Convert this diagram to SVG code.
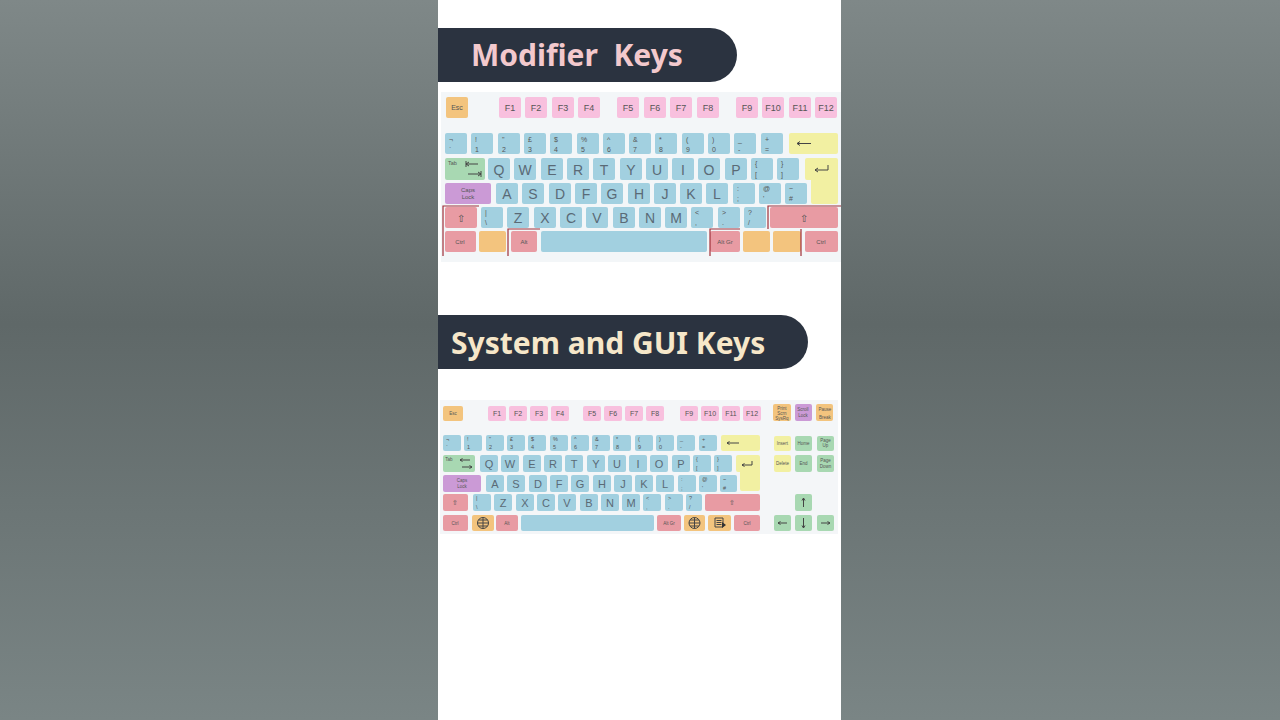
<svg xmlns="http://www.w3.org/2000/svg" width="1280" height="720" viewBox="0 0 1280 720">
<defs>
<linearGradient id="bg" x1="0" y1="0" x2="0" y2="1"><stop offset="0" stop-color="#7f8888"/><stop offset="0.45" stop-color="#5f6868"/><stop offset="1" stop-color="#7a8585"/></linearGradient>
<style>
.b{fill:#a2d0e0}.p{fill:#f8c0de}.o{fill:#f3c47e}.g{fill:#a8d8b2}.y{fill:#f2f0a2}.v{fill:#cb9ad6}.r{fill:#e89ba3}
text{font-family:"Liberation Sans",Arial,sans-serif;fill:#555}
.s{font-size:7px}.ss{font-size:5.5px}.f{font-size:9px;text-anchor:middle}.fs{font-size:7px;text-anchor:middle}
.l{font-size:14px;text-anchor:middle;fill:#5a6a76}.ls{font-size:11px;text-anchor:middle;fill:#5a6a76}
.t{font-size:6px;text-anchor:middle}.t2{font-size:4.5px;text-anchor:middle}.sh{font-size:10px;text-anchor:middle}
.ln{stroke:#444;stroke-width:1;fill:none}.rd{stroke:#a0303a;stroke-width:1.2;fill:none}
</style>
</defs>
<rect width="1280" height="720" fill="url(#bg)"/>
<rect x="438" y="0" width="403" height="720" fill="#ffffff"/>

<g id="banner1">
<path d="M438,28 H710 A27,27 0 0 1 710,82 H438 Z" fill="#2b3340"/>
<text x="471" y="66" xml:space="preserve" style="font-family:'Noto Sans',sans-serif;font-weight:bold;font-size:30px;fill:#f3c9cd;white-space:pre">Modifier  Keys</text>
</g>
<g id="banner2">
<path d="M438,315 H781 A27,27 0 0 1 781,369 H438 Z" fill="#2b3340"/>
<text x="451" y="354" style="font-family:'Noto Sans',sans-serif;font-weight:bold;font-size:30px;fill:#f6e7c9">System and GUI Keys</text>
</g>

<g id="keyboard1">
<rect x="441" y="92" width="400" height="170" fill="#f3f6f8"/>
<rect class="o" x="446" y="97" width="22" height="21" rx="2"/><text class="fs" x="457" y="110">Esc</text>
<g class="fk">
<rect class="p" x="499" y="97" width="22" height="21" rx="2"/><text class="f" x="510" y="111">F1</text>
<rect class="p" x="525" y="97" width="22" height="21" rx="2"/><text class="f" x="536" y="111">F2</text>
<rect class="p" x="552" y="97" width="22" height="21" rx="2"/><text class="f" x="563" y="111">F3</text>
<rect class="p" x="578" y="97" width="22" height="21" rx="2"/><text class="f" x="589" y="111">F4</text>
<rect class="p" x="617" y="97" width="22" height="21" rx="2"/><text class="f" x="628" y="111">F5</text>
<rect class="p" x="644" y="97" width="22" height="21" rx="2"/><text class="f" x="655" y="111">F6</text>
<rect class="p" x="670" y="97" width="22" height="21" rx="2"/><text class="f" x="681" y="111">F7</text>
<rect class="p" x="697" y="97" width="22" height="21" rx="2"/><text class="f" x="708" y="111">F8</text>
<rect class="p" x="736" y="97" width="22" height="21" rx="2"/><text class="f" x="747" y="111">F9</text>
<rect class="p" x="762" y="97" width="22" height="21" rx="2"/><text class="f" x="773" y="111">F10</text>
<rect class="p" x="789" y="97" width="22" height="21" rx="2"/><text class="f" x="800" y="111">F11</text>
<rect class="p" x="815" y="97" width="22" height="21" rx="2"/><text class="f" x="826" y="111">F12</text>
</g>
<g>
<rect class="b" x="445" y="133" width="22" height="21" rx="2"/><text class="s" x="449" y="142">¬</text><text class="s" x="449" y="152">`</text>
<rect class="b" x="471" y="133" width="22" height="21" rx="2"/><text class="s" x="475" y="142">!</text><text class="s" x="475" y="152">1</text>
<rect class="b" x="498" y="133" width="22" height="21" rx="2"/><text class="s" x="502" y="142">"</text><text class="s" x="502" y="152">2</text>
<rect class="b" x="524" y="133" width="22" height="21" rx="2"/><text class="s" x="528" y="142">£</text><text class="s" x="528" y="152">3</text>
<rect class="b" x="550" y="133" width="22" height="21" rx="2"/><text class="s" x="554" y="142">$</text><text class="s" x="554" y="152">4</text>
<rect class="b" x="577" y="133" width="22" height="21" rx="2"/><text class="s" x="581" y="142">%</text><text class="s" x="581" y="152">5</text>
<rect class="b" x="603" y="133" width="22" height="21" rx="2"/><text class="s" x="607" y="142">^</text><text class="s" x="607" y="152">6</text>
<rect class="b" x="629" y="133" width="22" height="21" rx="2"/><text class="s" x="633" y="142">&amp;</text><text class="s" x="633" y="152">7</text>
<rect class="b" x="655" y="133" width="22" height="21" rx="2"/><text class="s" x="659" y="142">*</text><text class="s" x="659" y="152">8</text>
<rect class="b" x="682" y="133" width="22" height="21" rx="2"/><text class="s" x="686" y="142">(</text><text class="s" x="686" y="152">9</text>
<rect class="b" x="708" y="133" width="22" height="21" rx="2"/><text class="s" x="712" y="142">)</text><text class="s" x="712" y="152">0</text>
<rect class="b" x="734" y="133" width="22" height="21" rx="2"/><text class="s" x="738" y="142">_</text><text class="s" x="738" y="152">-</text>
<rect class="b" x="761" y="133" width="22" height="21" rx="2"/><text class="s" x="765" y="142">+</text><text class="s" x="765" y="152">=</text>
<rect class="y" x="789" y="133" width="49" height="21" rx="2"/><path class="ln" d="M797,143.5 H811 M797,143.5 l3,-2 M797,143.5 l3,2"/>
</g>
<g>
<rect class="g" x="445" y="158" width="40" height="22" rx="2"/><text class="ss" x="448" y="165">Tab</text><path class="ln" d="M466,164 H478 M466,161 V167 M466,164 l3,-2 M466,164 l3,2 M468,174 H481 M481,171 V177 M481,174 l-3,-2 M481,174 l-3,2"/>
<rect class="b" x="488" y="158" width="22" height="22" rx="2"/><text class="l" x="499" y="175">Q</text>
<rect class="b" x="514" y="158" width="22" height="22" rx="2"/><text class="l" x="525" y="175">W</text>
<rect class="b" x="541" y="158" width="22" height="22" rx="2"/><text class="l" x="552" y="175">E</text>
<rect class="b" x="567" y="158" width="22" height="22" rx="2"/><text class="l" x="578" y="175">R</text>
<rect class="b" x="593" y="158" width="22" height="22" rx="2"/><text class="l" x="604" y="175">T</text>
<rect class="b" x="620" y="158" width="22" height="22" rx="2"/><text class="l" x="631" y="175">Y</text>
<rect class="b" x="646" y="158" width="22" height="22" rx="2"/><text class="l" x="657" y="175">U</text>
<rect class="b" x="672" y="158" width="22" height="22" rx="2"/><text class="l" x="683" y="175">I</text>
<rect class="b" x="698" y="158" width="22" height="22" rx="2"/><text class="l" x="709" y="175">O</text>
<rect class="b" x="725" y="158" width="22" height="22" rx="2"/><text class="l" x="736" y="175">P</text>
<rect class="b" x="751" y="158" width="22" height="22" rx="2"/><text class="s" x="755" y="166">{</text><text class="s" x="755" y="177">[</text>
<rect class="b" x="777" y="158" width="22" height="22" rx="2"/><text class="s" x="781" y="166">}</text><text class="s" x="781" y="177">]</text>
<path class="y" d="M807,158 H836 Q838,158 838,160 V202 Q838,204 836,204 H813 Q811,204 811,202 V180 H807 Q805,180 805,178 V160 Q805,158 807,158 Z"/>
<path class="ln" d="M815,170 H828 V165 M815,170 l3,-2 M815,170 l3,2"/>
</g>
<g>
<rect class="v" x="445" y="183" width="46" height="21" rx="2"/><text class="t" x="468" y="192">Caps</text><text class="t" x="468" y="199">Lock</text>
<rect class="b" x="496" y="183" width="22" height="21" rx="2"/><text class="l" x="507" y="199">A</text>
<rect class="b" x="522" y="183" width="22" height="21" rx="2"/><text class="l" x="533" y="199">S</text>
<rect class="b" x="549" y="183" width="22" height="21" rx="2"/><text class="l" x="560" y="199">D</text>
<rect class="b" x="575" y="183" width="22" height="21" rx="2"/><text class="l" x="586" y="199">F</text>
<rect class="b" x="601" y="183" width="22" height="21" rx="2"/><text class="l" x="612" y="199">G</text>
<rect class="b" x="628" y="183" width="22" height="21" rx="2"/><text class="l" x="639" y="199">H</text>
<rect class="b" x="654" y="183" width="22" height="21" rx="2"/><text class="l" x="665" y="199">J</text>
<rect class="b" x="680" y="183" width="22" height="21" rx="2"/><text class="l" x="691" y="199">K</text>
<rect class="b" x="706" y="183" width="22" height="21" rx="2"/><text class="l" x="717" y="199">L</text>
<rect class="b" x="733" y="183" width="22" height="21" rx="2"/><text class="s" x="737" y="191">:</text><text class="s" x="737" y="201">;</text>
<rect class="b" x="759" y="183" width="22" height="21" rx="2"/><text class="s" x="763" y="191">@</text><text class="s" x="763" y="201">'</text>
<rect class="b" x="785" y="183" width="22" height="21" rx="2"/><text class="s" x="789" y="191">~</text><text class="s" x="789" y="201">#</text>
</g>
<g>
<rect class="r" x="445" y="207" width="32" height="21" rx="2"/><text class="sh" x="461" y="222">⇧</text>
<rect class="b" x="481" y="207" width="22" height="21" rx="2"/><text class="s" x="485" y="215">|</text><text class="s" x="485" y="225">\</text>
<rect class="b" x="507" y="207" width="22" height="21" rx="2"/><text class="l" x="518" y="223">Z</text>
<rect class="b" x="534" y="207" width="22" height="21" rx="2"/><text class="l" x="545" y="223">X</text>
<rect class="b" x="560" y="207" width="22" height="21" rx="2"/><text class="l" x="571" y="223">C</text>
<rect class="b" x="586" y="207" width="22" height="21" rx="2"/><text class="l" x="597" y="223">V</text>
<rect class="b" x="613" y="207" width="22" height="21" rx="2"/><text class="l" x="624" y="223">B</text>
<rect class="b" x="639" y="207" width="22" height="21" rx="2"/><text class="l" x="650" y="223">N</text>
<rect class="b" x="665" y="207" width="22" height="21" rx="2"/><text class="l" x="676" y="223">M</text>
<rect class="b" x="691" y="207" width="22" height="21" rx="2"/><text class="s" x="695" y="215">&lt;</text><text class="s" x="695" y="225">,</text>
<rect class="b" x="718" y="207" width="22" height="21" rx="2"/><text class="s" x="722" y="215">&gt;</text><text class="s" x="722" y="225">.</text>
<rect class="b" x="744" y="207" width="22" height="21" rx="2"/><text class="s" x="748" y="215">?</text><text class="s" x="748" y="225">/</text>
<rect class="r" x="770" y="207" width="68" height="21" rx="2"/><text class="sh" x="804" y="222">⇧</text>
</g>
<g>
<rect class="r" x="445" y="231" width="31" height="21" rx="2"/><text class="t" x="460" y="244">Ctrl</text>
<rect class="o" x="479" y="231" width="27" height="21" rx="2"/>
<rect class="r" x="511" y="231" width="26" height="21" rx="2"/><text class="t" x="524" y="244">Alt</text>
<rect class="b" x="541" y="231" width="166" height="21" rx="2"/>
<rect class="r" x="710" y="231" width="30" height="21" rx="2"/><text class="t" x="725" y="244">Alt Gr</text>
<rect class="o" x="743" y="231" width="27" height="21" rx="2"/>
<rect class="o" x="773" y="231" width="28" height="21" rx="2"/>
<rect class="r" x="805" y="231" width="33" height="21" rx="2"/><text class="t" x="821" y="244">Ctrl</text>
</g>
<path class="rd" d="M443,256 V206 H479 M508,256 V229 H540 M710,256 V229 H740 M768,229 V206 H841 M801,256 V229"/>
</g>

<g id="keyboard2">
<rect x="440" y="400" width="398" height="134" fill="#f4f6f8"/>
<rect class="o" x="443" y="406" width="20" height="15" rx="2"/><text class="t2" x="453" y="415">Esc</text>
<rect class="p" x="488" y="406" width="18" height="15" rx="2"/><text class="fs" x="497" y="416">F1</text>
<rect class="p" x="509" y="406" width="18" height="15" rx="2"/><text class="fs" x="518" y="416">F2</text>
<rect class="p" x="530" y="406" width="18" height="15" rx="2"/><text class="fs" x="539" y="416">F3</text>
<rect class="p" x="551" y="406" width="18" height="15" rx="2"/><text class="fs" x="560" y="416">F4</text>
<rect class="p" x="583" y="406" width="18" height="15" rx="2"/><text class="fs" x="592" y="416">F5</text>
<rect class="p" x="604" y="406" width="18" height="15" rx="2"/><text class="fs" x="613" y="416">F6</text>
<rect class="p" x="625" y="406" width="18" height="15" rx="2"/><text class="fs" x="634" y="416">F7</text>
<rect class="p" x="646" y="406" width="18" height="15" rx="2"/><text class="fs" x="655" y="416">F8</text>
<rect class="p" x="680" y="406" width="18" height="15" rx="2"/><text class="fs" x="689" y="416">F9</text>
<rect class="p" x="701" y="406" width="18" height="15" rx="2"/><text class="fs" x="710" y="416">F10</text>
<rect class="p" x="722" y="406" width="18" height="15" rx="2"/><text class="fs" x="731" y="416">F11</text>
<rect class="p" x="743" y="406" width="18" height="15" rx="2"/><text class="fs" x="752" y="416">F12</text>
<rect class="o" x="773" y="404" width="18" height="17" rx="2"/><text class="t2" x="782" y="410">Print</text><text class="t2" x="782" y="415">Scrn</text><text class="t2" x="782" y="420">SysRq</text>
<rect class="v" x="795" y="404" width="17" height="17" rx="2"/><text class="t2" x="803" y="411">Scroll</text><text class="t2" x="803" y="417">Lock</text>
<rect class="o" x="816" y="404" width="17" height="17" rx="2"/><text class="t2" x="825" y="411">Pause</text><text class="t2" x="825" y="419">Break</text>

<rect class="b" x="443" y="435" width="18" height="16" rx="2"/><text class="ss" x="446" y="441">¬</text><text class="ss" x="446" y="449">`</text>
<rect class="b" x="464" y="435" width="18" height="16" rx="2"/><text class="ss" x="467" y="441">!</text><text class="ss" x="467" y="449">1</text>
<rect class="b" x="486" y="435" width="18" height="16" rx="2"/><text class="ss" x="489" y="441">"</text><text class="ss" x="489" y="449">2</text>
<rect class="b" x="507" y="435" width="18" height="16" rx="2"/><text class="ss" x="510" y="441">£</text><text class="ss" x="510" y="449">3</text>
<rect class="b" x="528" y="435" width="18" height="16" rx="2"/><text class="ss" x="531" y="441">$</text><text class="ss" x="531" y="449">4</text>
<rect class="b" x="550" y="435" width="18" height="16" rx="2"/><text class="ss" x="553" y="441">%</text><text class="ss" x="553" y="449">5</text>
<rect class="b" x="571" y="435" width="18" height="16" rx="2"/><text class="ss" x="574" y="441">^</text><text class="ss" x="574" y="449">6</text>
<rect class="b" x="592" y="435" width="18" height="16" rx="2"/><text class="ss" x="595" y="441">&amp;</text><text class="ss" x="595" y="449">7</text>
<rect class="b" x="613" y="435" width="18" height="16" rx="2"/><text class="ss" x="616" y="441">*</text><text class="ss" x="616" y="449">8</text>
<rect class="b" x="635" y="435" width="18" height="16" rx="2"/><text class="ss" x="638" y="441">(</text><text class="ss" x="638" y="449">9</text>
<rect class="b" x="656" y="435" width="18" height="16" rx="2"/><text class="ss" x="659" y="441">)</text><text class="ss" x="659" y="449">0</text>
<rect class="b" x="677" y="435" width="18" height="16" rx="2"/><text class="ss" x="680" y="441">_</text><text class="ss" x="680" y="449">-</text>
<rect class="b" x="699" y="435" width="18" height="16" rx="2"/><text class="ss" x="702" y="441">+</text><text class="ss" x="702" y="449">=</text>
<rect class="y" x="721" y="435" width="39" height="16" rx="2"/><path class="ln" d="M727,443 H739 M727,443 l2.5,-1.5 M727,443 l2.5,1.5"/>

<rect class="g" x="443" y="455" width="32" height="17" rx="2"/><text class="t2" x="449" y="461">Tab</text><path class="ln" d="M460,460 H470 M460,460 l2.5,-1.5 M460,460 l2.5,1.5 M462,467 H472 M472,467 l-2.5,-1.5 M472,467 l-2.5,1.5"/>
<rect class="b" x="480" y="455" width="18" height="17" rx="2"/><text class="ls" x="489" y="468">Q</text>
<rect class="b" x="501" y="455" width="18" height="17" rx="2"/><text class="ls" x="510" y="468">W</text>
<rect class="b" x="523" y="455" width="18" height="17" rx="2"/><text class="ls" x="532" y="468">E</text>
<rect class="b" x="544" y="455" width="18" height="17" rx="2"/><text class="ls" x="553" y="468">R</text>
<rect class="b" x="565" y="455" width="18" height="17" rx="2"/><text class="ls" x="574" y="468">T</text>
<rect class="b" x="587" y="455" width="18" height="17" rx="2"/><text class="ls" x="596" y="468">Y</text>
<rect class="b" x="608" y="455" width="18" height="17" rx="2"/><text class="ls" x="617" y="468">U</text>
<rect class="b" x="629" y="455" width="18" height="17" rx="2"/><text class="ls" x="638" y="468">I</text>
<rect class="b" x="650" y="455" width="18" height="17" rx="2"/><text class="ls" x="659" y="468">O</text>
<rect class="b" x="672" y="455" width="18" height="17" rx="2"/><text class="ls" x="681" y="468">P</text>
<rect class="b" x="693" y="455" width="18" height="17" rx="2"/><text class="ss" x="696" y="461">{</text><text class="ss" x="696" y="470">[</text>
<rect class="b" x="714" y="455" width="18" height="17" rx="2"/><text class="ss" x="717" y="461">}</text><text class="ss" x="717" y="470">]</text>
<path class="y" d="M738,455 H758 Q760,455 760,457 V489 Q760,491 758,491 H742 Q740,491 740,489 V472 H738 Q736,472 736,470 V457 Q736,455 738,455 Z"/>
<path class="ln" d="M742,465 H752 V461 M742,465 l2.5,-1.5 M742,465 l2.5,1.5"/>

<rect class="v" x="443" y="475" width="38" height="17" rx="2"/><text class="t2" x="462" y="482">Caps</text><text class="t2" x="462" y="488">Lock</text>
<rect class="b" x="486" y="475" width="18" height="17" rx="2"/><text class="ls" x="495" y="488">A</text>
<rect class="b" x="507" y="475" width="18" height="17" rx="2"/><text class="ls" x="516" y="488">S</text>
<rect class="b" x="529" y="475" width="18" height="17" rx="2"/><text class="ls" x="538" y="488">D</text>
<rect class="b" x="550" y="475" width="18" height="17" rx="2"/><text class="ls" x="559" y="488">F</text>
<rect class="b" x="571" y="475" width="18" height="17" rx="2"/><text class="ls" x="580" y="488">G</text>
<rect class="b" x="593" y="475" width="18" height="17" rx="2"/><text class="ls" x="602" y="488">H</text>
<rect class="b" x="614" y="475" width="18" height="17" rx="2"/><text class="ls" x="623" y="488">J</text>
<rect class="b" x="635" y="475" width="18" height="17" rx="2"/><text class="ls" x="644" y="488">K</text>
<rect class="b" x="656" y="475" width="18" height="17" rx="2"/><text class="ls" x="665" y="488">L</text>
<rect class="b" x="678" y="475" width="18" height="17" rx="2"/><text class="ss" x="681" y="481">:</text><text class="ss" x="681" y="490">;</text>
<rect class="b" x="699" y="475" width="18" height="17" rx="2"/><text class="ss" x="702" y="481">@</text><text class="ss" x="702" y="490">'</text>
<rect class="b" x="720" y="475" width="17" height="17" rx="2"/><text class="ss" x="723" y="481">~</text><text class="ss" x="723" y="490">#</text>

<rect class="r" x="443" y="494" width="25" height="17" rx="2"/><text class="fs" x="455" y="505">⇧</text>
<rect class="b" x="473" y="494" width="18" height="17" rx="2"/><text class="ss" x="476" y="500">|</text><text class="ss" x="476" y="509">\</text>
<rect class="b" x="494" y="494" width="18" height="17" rx="2"/><text class="ls" x="503" y="507">Z</text>
<rect class="b" x="516" y="494" width="18" height="17" rx="2"/><text class="ls" x="525" y="507">X</text>
<rect class="b" x="537" y="494" width="18" height="17" rx="2"/><text class="ls" x="546" y="507">C</text>
<rect class="b" x="558" y="494" width="18" height="17" rx="2"/><text class="ls" x="567" y="507">V</text>
<rect class="b" x="580" y="494" width="18" height="17" rx="2"/><text class="ls" x="589" y="507">B</text>
<rect class="b" x="601" y="494" width="18" height="17" rx="2"/><text class="ls" x="610" y="507">N</text>
<rect class="b" x="622" y="494" width="18" height="17" rx="2"/><text class="ls" x="631" y="507">M</text>
<rect class="b" x="643" y="494" width="18" height="17" rx="2"/><text class="ss" x="646" y="500">&lt;</text><text class="ss" x="646" y="509">,</text>
<rect class="b" x="665" y="494" width="18" height="17" rx="2"/><text class="ss" x="668" y="500">&gt;</text><text class="ss" x="668" y="509">.</text>
<rect class="b" x="686" y="494" width="16" height="17" rx="2"/><text class="ss" x="689" y="500">?</text><text class="ss" x="689" y="509">/</text>
<rect class="r" x="705" y="494" width="55" height="17" rx="2"/><text class="fs" x="732" y="505">⇧</text>

<rect class="r" x="443" y="515" width="25" height="16" rx="2"/><text class="t2" x="455" y="525">Ctrl</text>
<rect class="o" x="472" y="515" width="22" height="16" rx="2"/><g class="ln" stroke-width="0.7"><circle cx="483" cy="523" r="5.5"/><path d="M477.5,523 H488.5 M483,517.5 V528.5 M478.5,520 H487.5 M478.5,526 H487.5"/></g>
<rect class="r" x="496" y="515" width="22" height="16" rx="2"/><text class="t2" x="507" y="525">Alt</text>
<rect class="b" x="521" y="515" width="133" height="16" rx="2"/>
<rect class="r" x="657" y="515" width="24" height="16" rx="2"/><text class="t2" x="669" y="525">Alt Gr</text>
<rect class="o" x="684" y="515" width="21" height="16" rx="2"/><g class="ln" stroke-width="0.7"><circle cx="694.5" cy="523" r="5.5"/><path d="M689,523 H700 M694.5,517.5 V528.5 M690,520 H699 M690,526 H699"/></g>
<rect class="o" x="708" y="515" width="23" height="16" rx="2"/><path class="ln" stroke-width="0.8" d="M715,518 h8 v9 h-8 z M716.5,520.5 h5 M716.5,522.5 h5 M716.5,524.5 h5"/><path d="M722,522 l4,3 l-4,3 z" fill="#333"/>
<rect class="r" x="734" y="515" width="26" height="16" rx="2"/><text class="t2" x="747" y="525">Ctrl</text>

<rect class="y" x="774" y="436" width="17" height="15" rx="2"/><text class="t2" x="782.5" y="445">Insert</text>
<rect class="g" x="795" y="436" width="17" height="15" rx="2"/><text class="t2" x="803.5" y="445">Home</text>
<rect class="g" x="817" y="436" width="17" height="15" rx="2"/><text class="t2" x="825.5" y="442">Page</text><text class="t2" x="825.5" y="447">Up</text>
<rect class="y" x="774" y="455" width="17" height="17" rx="2"/><text class="t2" x="782.5" y="465">Delete</text>
<rect class="g" x="795" y="455" width="17" height="17" rx="2"/><text class="t2" x="803.5" y="465">End</text>
<rect class="g" x="817" y="455" width="17" height="17" rx="2"/><text class="t2" x="825.5" y="462">Page</text><text class="t2" x="825.5" y="468">Down</text>
<rect class="g" x="795" y="494" width="17" height="17" rx="2"/><path class="ln" d="M803.5,498 V507 M803.5,498 l-1.5,2.5 M803.5,498 l1.5,2.5"/>
<rect class="g" x="774" y="515" width="17" height="16" rx="2"/><path class="ln" d="M778,523 H787 M778,523 l2.5,-1.5 M778,523 l2.5,1.5"/>
<rect class="g" x="795" y="515" width="17" height="16" rx="2"/><path class="ln" d="M803.5,518 V528 M803.5,528 l-1.5,-2.5 M803.5,528 l1.5,-2.5"/>
<rect class="g" x="817" y="515" width="17" height="16" rx="2"/><path class="ln" d="M821,523 H830 M830,523 l-2.5,-1.5 M830,523 l-2.5,1.5"/>
</g>
</svg>
